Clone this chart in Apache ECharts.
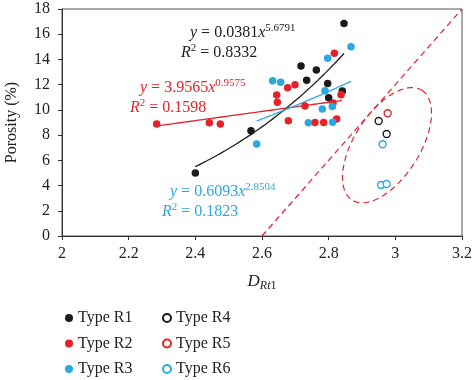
<!DOCTYPE html>
<html><head><meta charset="utf-8">
<script src="https://cdn.jsdelivr.net/npm/echarts@6/dist/echarts.min.js"></script>
<style>html,body{margin:0;padding:0;background:#fff}#c{width:474px;height:380px}</style>
</head><body><div id="c"></div>
<script>
// ---- data ----
const seriesNames = ['Type R1','Type R2','Type R3','Type R4','Type R5','Type R6'];
const r1X = [2.40, 2.567, 2.717, 2.734, 2.763, 2.797, 2.800, 2.841, 2.846];
const r1Y = [5.0, 8.35, 13.48, 12.35, 13.16, 12.1, 10.97, 11.5, 16.85];
const r2X = [2.284, 2.442, 2.475, 2.644, 2.646, 2.677, 2.699, 2.679, 2.729, 2.759, 2.785, 2.824, 2.813, 2.837, 2.817];
const r2Y = [8.88, 8.98, 8.88, 11.18, 10.6, 11.76, 12.0, 9.14, 10.31, 9.0, 9.0, 9.28, 10.55, 11.2, 14.49];
const r3X = [2.584, 2.632, 2.656, 2.739, 2.781, 2.789, 2.811, 2.812, 2.797, 2.867];
const r3Y = [7.3, 12.32, 12.19, 8.99, 10.07, 11.52, 10.26, 9.01, 14.09, 15.01];
const r4X = [2.950, 2.974];
const r4Y = [9.12, 8.09];
const r5X = [2.977];
const r5Y = [9.73];
const r6X = [2.962, 2.957, 2.974];
const r6Y = [7.27, 4.04, 4.12];
// power-law fits shown on the chart: y = a * x^b, drawn over [x0, x1]
const fitCoef = [[0.0381, 5.6791], [3.9565, 0.9575], [0.6093, 2.8504]];
const fitRange = [[2.40, 2.846], [2.284, 2.84], [2.584, 2.867]];
const fitText = ['5.6791', '0.9575', '2.8504'];
const fitA = ['0.0381', '3.9565', '0.6093'];
const fitR2 = ['0.8332', '0.1598', '0.1823'];
// dashed reference line and ellipse (data units)
const refLineX = [2.6, 3.2];
const refLineY = [0, 18];
const ellCenter = [2.975, 7.2];
const ellU = [0.105, 4.35];
const ellV = [0.0825, -1.40];
const xTicks = [2, 2.2, 2.4, 2.6, 2.8, 3, 3.2];
const yTicks = [0, 2, 4, 6, 8, 10, 12, 14, 16, 18];

const BLACK = '#1b1b1b', RED = '#e5222b', BLUE = '#2aa8e0';
const colors = [BLACK, RED, BLUE, BLACK, RED, BLUE];
const FONT = 'Liberation Serif';

const zip = (xs, ys) => xs.map((x, i) => [x, ys[i]]);
const fitLine = (k) => {
  const [a, b] = fitCoef[k], [x0, x1] = fitRange[k];
  const pts = [];
  const n = 40;
  for (let i = 0; i <= n; i++) { const x = x0 + (x1 - x0) * i / n; pts.push([x, a * Math.pow(x, b)]); }
  return pts;
};
const ellipse = () => {
  const pts = [];
  for (let i = 0; i <= 120; i++) {
    const t = 2 * Math.PI * i / 120;
    pts.push([ellCenter[0] + ellU[0] * Math.cos(t) + ellV[0] * Math.sin(t),
              ellCenter[1] + ellU[1] * Math.cos(t) + ellV[1] * Math.sin(t)]);
  }
  return pts;
};

const scatterData = [zip(r1X, r1Y), zip(r2X, r2Y), zip(r3X, r3Y), zip(r4X, r4Y), zip(r5X, r5Y), zip(r6X, r6Y)];
const series = [];
const fitColors = [BLACK, RED, BLUE];
for (let k = 0; k < 3; k++) {
  series.push({ type: 'line', name: 'fit' + k, data: fitLine(k), showSymbol: false, symbol: 'none',
    lineStyle: { color: fitColors[k], width: 1.3 }, z: 3, silent: true });
}
series.push({ type: 'line', name: 'ref', data: zip(refLineX, refLineY), symbol: 'none',
  lineStyle: { color: RED, width: 1.2, type: [6, 4] }, z: 2, silent: true });
series.push({ type: 'line', name: 'ell', data: ellipse(), symbol: 'none', smooth: false,
  lineStyle: { color: RED, width: 1.2, type: [6, 4] }, z: 2, silent: true });
scatterData.forEach((d, i) => {
  const open = i >= 3;
  series.push({ type: 'scatter', name: seriesNames[i], data: d, symbol: 'circle',
    symbolSize: open ? 7 : 7.5, z: 4,
    itemStyle: open ? { color: '#fff', borderColor: colors[i], borderWidth: 1.4, opacity: 1 }
                    : { color: colors[i], opacity: 1 } });
});

const eqRich = (col) => ({
  i: { fontFamily: FONT, fontSize: 16, fontStyle: 'italic', fill: col, color: col, lineHeight: 20 },
  n: { fontFamily: FONT, fontSize: 16, fill: col, color: col, lineHeight: 20 },
  s: { fontFamily: FONT, fontSize: 11, fill: col, color: col, lineHeight: 20, verticalAlign: 'top', padding: [0, 0, 0, 0] }
});
const eqPos = [[190, 23, 181, 43], [140, 78, 130, 98], [170, 182, 162, 202]];
const graphics = [];
for (let k = 0; k < 3; k++) {
  const col = fitColors[k];
  const p = eqPos[k];
  graphics.push({ type: 'text', left: p[0], top: p[1], z: 10, style: {
    text: '{i|y}{n| = ' + fitA[k] + '}{i|x}{s|' + fitText[k] + '}', rich: eqRich(col), fill: col } });
  graphics.push({ type: 'text', left: p[2], top: p[3], z: 10, style: {
    text: '{i|R}{s|2}{n| = ' + fitR2[k] + '}', rich: eqRich(col), fill: col } });
}

const legendCommon = { orient: 'vertical', icon: 'circle', itemWidth: 8, itemHeight: 8, itemGap: 9.5,
  height: 100, textStyle: { fontFamily: FONT, fontSize: 16, color: '#222', lineHeight: 16 }, selectedMode: false };

const chart = echarts.init(document.getElementById('c'), null, { renderer: 'canvas' });
chart.setOption({
  animation: false,
  backgroundColor: '#fff',
  grid: { left: 62, right: 12, top: 9, bottom: 144, show: true, borderColor: '#555', borderWidth: 1,
    containLabel: false, outerBoundsMode: 'none' },
  xAxis: {
    type: 'value', min: xTicks[0], max: xTicks[xTicks.length - 1], interval: 0.2,
    axisLine: { lineStyle: { color: '#333', width: 1 } },
    axisTick: { show: true, length: 4, inside: false, lineStyle: { color: '#333' } },
    axisLabel: { fontFamily: FONT, fontSize: 16, color: '#222', margin: 10 },
    splitLine: { show: false },
    name: '{d|D}{s|Rt}{n|1}', nameLocation: 'middle', nameGap: 36,
    nameTextStyle: { rich: {
      d: { fontFamily: FONT, fontSize: 17, fontStyle: 'italic', color: '#222', lineHeight: 20 },
      s: { fontFamily: FONT, fontSize: 12, fontStyle: 'italic', color: '#222', lineHeight: 20, verticalAlign: 'bottom' },
      n: { fontFamily: FONT, fontSize: 12, color: '#222', lineHeight: 20, verticalAlign: 'bottom' } } }
  },
  yAxis: {
    type: 'value', min: yTicks[0], max: yTicks[yTicks.length - 1], interval: 2,
    axisLine: { show: true, lineStyle: { color: '#333', width: 1 } },
    axisTick: { show: true, length: 4, inside: false, lineStyle: { color: '#333' } },
    axisLabel: { fontFamily: FONT, fontSize: 16, color: '#222', margin: 12 },
    splitLine: { show: false },
    name: 'Porosity (%)', nameLocation: 'middle', nameGap: 42,
    nameTextStyle: { fontFamily: FONT, fontSize: 16, color: '#222' }
  },
  legend: [
    Object.assign({ left: 60, top: 305, data: seriesNames.slice(0, 3) }, legendCommon),
    Object.assign({ left: 157, top: 305, data: seriesNames.slice(3) }, legendCommon)
  ],
  graphic: graphics,
  series: series
});
</script>
</body></html>
